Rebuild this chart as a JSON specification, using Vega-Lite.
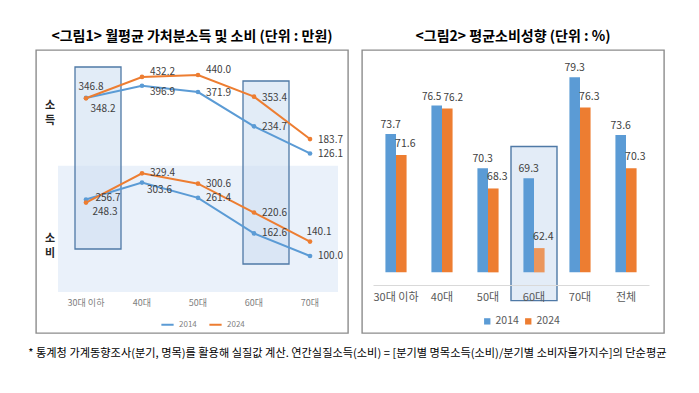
{
  "$schema": "https://vega.github.io/schema/vega-lite/v6.json",
  "padding": {"left": 28, "top": 29, "right": 5, "bottom": 5},
  "config": {
    "font": "Noto Sans CJK KR",
    "view": {"stroke": "#8c8c8c", "strokeWidth": 1.4},
    "background": "white"
  },
  "title": {
    "text": "* 통계청 가계동향조사(분기, 명목)를 활용해 실질값 계산. 연간실질소득(소비) = [분기별 명목소득(소비)/분기별 소비자물가지수]의 단순평균",
    "orient": "bottom", "anchor": "start", "fontSize": 11.2, "fontWeight": "normal",
    "offset": 14, "dx": -7, "color": "#000000", "font": "Noto Sans CJK KR"
  },
  "datasets": {
    "left": [
      {"cat": "30대 이하", "series": "2014", "kind": "소득", "value": 348.2},
      {"cat": "40대", "series": "2014", "kind": "소득", "value": 396.9},
      {"cat": "50대", "series": "2014", "kind": "소득", "value": 371.9},
      {"cat": "60대", "series": "2014", "kind": "소득", "value": 234.7},
      {"cat": "70대", "series": "2014", "kind": "소득", "value": 126.1},
      {"cat": "30대 이하", "series": "2024", "kind": "소득", "value": 346.8},
      {"cat": "40대", "series": "2024", "kind": "소득", "value": 432.2},
      {"cat": "50대", "series": "2024", "kind": "소득", "value": 440.0},
      {"cat": "60대", "series": "2024", "kind": "소득", "value": 353.4},
      {"cat": "70대", "series": "2024", "kind": "소득", "value": 183.7},
      {"cat": "30대 이하", "series": "2014", "kind": "소비", "value": 256.7},
      {"cat": "40대", "series": "2014", "kind": "소비", "value": 303.6},
      {"cat": "50대", "series": "2014", "kind": "소비", "value": 261.4},
      {"cat": "60대", "series": "2014", "kind": "소비", "value": 162.6},
      {"cat": "70대", "series": "2014", "kind": "소비", "value": 100.0},
      {"cat": "30대 이하", "series": "2024", "kind": "소비", "value": 248.3},
      {"cat": "40대", "series": "2024", "kind": "소비", "value": 329.4},
      {"cat": "50대", "series": "2024", "kind": "소비", "value": 300.6},
      {"cat": "60대", "series": "2024", "kind": "소비", "value": 220.6},
      {"cat": "70대", "series": "2024", "kind": "소비", "value": 140.1}
    ],
    "boxes": [
      {"cat": "30대 이하", "top": 624.3, "bottom": 119.4},
      {"cat": "60대", "top": 585.4, "bottom": 77.8}
    ],
    "sides": [
      {"cat": "30대 이하", "t": "소\n득", "kind": "소득", "v": 316},
      {"cat": "30대 이하", "t": "소\n비", "kind": "소비", "v": 146}
    ],
    "right": [
      {"cat": "30대 이하", "series": "2014", "value": 73.7},
      {"cat": "40대", "series": "2014", "value": 76.5},
      {"cat": "50대", "series": "2014", "value": 70.3},
      {"cat": "60대", "series": "2014", "value": 69.3},
      {"cat": "70대", "series": "2014", "value": 79.3},
      {"cat": "전체", "series": "2014", "value": 73.6},
      {"cat": "30대 이하", "series": "2024", "value": 71.6},
      {"cat": "40대", "series": "2024", "value": 76.2},
      {"cat": "50대", "series": "2024", "value": 68.3},
      {"cat": "60대", "series": "2024", "value": 62.4},
      {"cat": "70대", "series": "2024", "value": 76.3},
      {"cat": "전체", "series": "2024", "value": 70.3}
    ],
    "box2": [
      {"cat": "60대", "top": 72.45, "bottom": 57.2}
    ]
  },
  "hconcat": [
    {
      "width": 312,
      "height": 283,
      "title": {"text": "<그림1> 월평균 가처분소득 및 소비 (단위 : 만원)", "fontSize": 14, "fontWeight": "bold", "anchor": "middle", "offset": 6, "color": "#000000"},
      "data": {"name": "left"},
      "encoding": {
        "x": {
          "field": "cat", "type": "nominal",
          "scale": {"domain": ["30대 이하", "40대", "50대", "60대", "70대"], "range": [22, 302], "paddingInner": 0, "paddingOuter": 0},
          "axis": {"title": null, "orient": "bottom", "offset": -41, "domain": false, "ticks": false, "labelPadding": 6, "labelFontSize": 9, "labelColor": "#808080", "labelAngle": 0}
        }
      },
      "layer": [
        {
          "transform": [{"filter": "datum.kind=='소득' && datum.series=='2014'"}],
          "mark": {"type": "rect", "fill": "#eaf1fa"},
          "encoding": {
            "y": {"datum": 0, "type": "quantitative", "scale": {"domain": [-113.6, 671.4]}, "axis": null},
            "y2": {"datum": 350}
          }
        },
        {
          "data": {"name": "boxes"},
          "mark": {"type": "bar", "width": 46, "xOffset": 12, "fill": "#cfdff2", "fillOpacity": 0.6, "stroke": "#4f79a6", "strokeWidth": 1.3},
          "encoding": {
            "y": {"field": "top", "type": "quantitative", "scale": {"domain": [-113.6, 671.4]}, "axis": null},
            "y2": {"field": "bottom"}
          }
        },
        {
          "transform": [{"filter": "datum.kind=='소득'"}],
          "mark": {"type": "line", "strokeWidth": 2, "point": {"filled": true, "size": 22}},
          "encoding": {
            "y": {"field": "value", "type": "quantitative", "scale": {"domain": [-592, 540]}, "axis": null},
            "color": {"field": "series", "type": "nominal", "scale": {"domain": ["2014", "2024"], "range": ["#5b9bd5", "#ed7d31"]},
              "legend": {"title": null, "orient": "none", "legendX": 124, "legendY": 267, "direction": "horizontal", "symbolType": "stroke", "symbolStrokeWidth": 2, "symbolSize": 150, "labelFontSize": 8, "labelColor": "#7f7f7f", "columnPadding": 8}}
          }
        },
        {
          "transform": [{"filter": "datum.kind=='소비'"}],
          "mark": {"type": "line", "strokeWidth": 2, "point": {"filled": true, "size": 22}},
          "encoding": {
            "y": {"field": "value", "type": "quantitative", "scale": {"domain": [-113.6, 671.4]}, "axis": null},
            "color": {"field": "series", "type": "nominal"}
          }
        },
        {
          "transform": [{"filter": "datum.kind=='소득' && (datum.cat=='40대' || datum.cat=='50대') && datum.series=='2024'"}],
          "mark": {"type": "text", "align": "left", "baseline": "middle", "dx": 8, "dy": -5, "fontSize": 10, "color": "#404040"},
          "encoding": {
            "y": {"field": "value", "type": "quantitative", "scale": {"domain": [-592, 540]}, "axis": null},
            "text": {"field": "value", "type": "quantitative", "format": ".1f"}
          }
        },
        {
          "transform": [{"filter": "datum.kind=='소득' && datum.cat=='40대' && datum.series=='2014'"}],
          "mark": {"type": "text", "align": "left", "baseline": "middle", "dx": 8, "dy": 6, "fontSize": 10, "color": "#404040"},
          "encoding": {
            "y": {"field": "value", "type": "quantitative", "scale": {"domain": [-592, 540]}, "axis": null},
            "text": {"field": "value", "type": "quantitative", "format": ".1f"}
          }
        },
        {
          "transform": [{"filter": "datum.kind=='소득' && (datum.cat=='60대' || datum.cat=='70대' || (datum.cat=='50대' && datum.series=='2014'))"}],
          "mark": {"type": "text", "align": "left", "baseline": "middle", "dx": 8, "dy": 1, "fontSize": 10, "color": "#404040"},
          "encoding": {
            "y": {"field": "value", "type": "quantitative", "scale": {"domain": [-592, 540]}, "axis": null},
            "text": {"field": "value", "type": "quantitative", "format": ".1f"}
          }
        },
        {
          "transform": [{"filter": "datum.kind=='소득' && datum.cat=='30대 이하' && datum.series=='2024'"}],
          "mark": {"type": "text", "align": "center", "baseline": "middle", "dx": 5, "dy": -11, "fontSize": 10, "color": "#404040"},
          "encoding": {
            "y": {"field": "value", "type": "quantitative", "scale": {"domain": [-592, 540]}, "axis": null},
            "text": {"field": "value", "type": "quantitative", "format": ".1f"}
          }
        },
        {
          "transform": [{"filter": "datum.kind=='소득' && datum.cat=='30대 이하' && datum.series=='2014'"}],
          "mark": {"type": "text", "align": "center", "baseline": "middle", "dx": 17, "dy": 11, "fontSize": 10, "color": "#404040"},
          "encoding": {
            "y": {"field": "value", "type": "quantitative", "scale": {"domain": [-592, 540]}, "axis": null},
            "text": {"field": "value", "type": "quantitative", "format": ".1f"}
          }
        },
        {
          "transform": [{"filter": "datum.kind=='소비' && datum.cat=='30대 이하' && datum.series=='2024'"}],
          "mark": {"type": "text", "align": "center", "baseline": "middle", "dx": 19, "dy": 9, "fontSize": 10, "color": "#404040"},
          "encoding": {
            "y": {"field": "value", "type": "quantitative", "scale": {"domain": [-113.6, 671.4]}, "axis": null},
            "text": {"field": "value", "type": "quantitative", "format": ".1f"}
          }
        },
        {
          "transform": [{"filter": "datum.kind=='소비' && datum.cat=='30대 이하' && datum.series=='2014'"}],
          "mark": {"type": "text", "align": "center", "baseline": "middle", "dx": 22, "dy": -2, "fontSize": 10, "color": "#404040"},
          "encoding": {
            "y": {"field": "value", "type": "quantitative", "scale": {"domain": [-113.6, 671.4]}, "axis": null},
            "text": {"field": "value", "type": "quantitative", "format": ".1f"}
          }
        },
        {
          "transform": [{"filter": "datum.kind=='소비' && datum.cat=='40대' && datum.series=='2014'"}],
          "mark": {"type": "text", "align": "left", "baseline": "middle", "dx": 5, "dy": 7, "fontSize": 10, "color": "#404040"},
          "encoding": {
            "y": {"field": "value", "type": "quantitative", "scale": {"domain": [-113.6, 671.4]}, "axis": null},
            "text": {"field": "value", "type": "quantitative", "format": ".1f"}
          }
        },
        {
          "transform": [{"filter": "datum.kind=='소비' && datum.cat=='70대' && datum.series=='2024'"}],
          "mark": {"type": "text", "align": "center", "baseline": "middle", "dx": 9, "dy": -10, "fontSize": 10, "color": "#404040"},
          "encoding": {
            "y": {"field": "value", "type": "quantitative", "scale": {"domain": [-113.6, 671.4]}, "axis": null},
            "text": {"field": "value", "type": "quantitative", "format": ".1f"}
          }
        },
        {
          "transform": [{"filter": "datum.kind=='소비' && datum.cat!='30대 이하' && !(datum.cat=='40대' && datum.series=='2014') && !(datum.cat=='70대' && datum.series=='2024')"}],
          "mark": {"type": "text", "align": "left", "baseline": "middle", "dx": 8, "dy": 0, "fontSize": 10, "color": "#404040"},
          "encoding": {
            "y": {"field": "value", "type": "quantitative", "scale": {"domain": [-113.6, 671.4]}, "axis": null},
            "text": {"field": "value", "type": "quantitative", "format": ".1f"}
          }
        },
        {
          "data": {"name": "sides"},
          "transform": [{"filter": "datum.kind=='소득'"}],
          "mark": {"type": "text", "align": "center", "baseline": "middle", "dx": -36, "fontSize": 11, "fontWeight": "bold", "lineBreak": "\n", "lineHeight": 15, "color": "#262626"},
          "encoding": {
            "y": {"field": "v", "type": "quantitative", "scale": {"domain": [-592, 540]}, "axis": null},
            "text": {"field": "t"}
          }
        },
        {
          "data": {"name": "sides"},
          "transform": [{"filter": "datum.kind=='소비'"}],
          "mark": {"type": "text", "align": "center", "baseline": "middle", "dx": -36, "fontSize": 11, "fontWeight": "bold", "lineBreak": "\n", "lineHeight": 15, "color": "#262626"},
          "encoding": {
            "y": {"field": "v", "type": "quantitative", "scale": {"domain": [-113.6, 671.4]}, "axis": null},
            "text": {"field": "t"}
          }
        }
      ],
      "resolve": {"scale": {"y": "independent"}}
    },
    {
      "width": 302,
      "height": 283,
      "title": {"text": "<그림2> 평균소비성향 (단위 : %)", "fontSize": 14, "fontWeight": "bold", "anchor": "middle", "offset": 6, "color": "#000000"},
      "data": {"name": "right"},
      "encoding": {
        "x": {
          "field": "cat", "type": "nominal",
          "scale": {"domain": ["30대 이하", "40대", "50대", "60대", "70대", "전체"], "range": [11, 287], "paddingInner": 0.54, "paddingOuter": 0.27},
          "axis": {"title": null, "orient": "bottom", "offset": -48, "domain": true, "domainColor": "#d9d9d9", "ticks": false, "labelPadding": 6, "labelFontSize": 11, "labelColor": "#595959", "labelAngle": 0, "zindex": 1}
        }
      },
      "layer": [
        {
          "data": {"name": "box2"},
          "mark": {"type": "bar", "width": 46, "fill": "#e3ecf7", "stroke": "#4f79a6", "strokeWidth": 1.4},
          "encoding": {
            "y": {"field": "top", "type": "quantitative", "scale": {"domain": [55.64, 81.36]}, "axis": null},
            "y2": {"field": "bottom"}
          }
        },
        {
          "mark": {"type": "bar"},
          "encoding": {
            "xOffset": {"field": "series", "type": "nominal", "scale": {"domain": ["2014", "2024"], "paddingInner": 0, "paddingOuter": 0}},
            "y": {"field": "value", "type": "quantitative"},
            "y2": {"datum": 60},
            "opacity": {"condition": {"test": "datum.cat=='60대' && datum.series=='2024'", "value": 0.78}, "value": 1},
            "color": {"field": "series", "type": "nominal", "scale": {"domain": ["2014", "2024"], "range": ["#5b9bd5", "#ed7d31"]},
              "legend": {"title": null, "orient": "none", "legendX": 120, "legendY": 266, "direction": "horizontal", "symbolType": "square", "symbolSize": 40, "labelFontSize": 10.5, "labelOffset": 3, "columnPadding": 4, "labelColor": "#595959"}}
          }
        },
        {
          "transform": [{"filter": "datum.series=='2014' && datum.cat!='40대'"}],
          "mark": {"type": "text", "align": "center", "baseline": "middle", "dy": -9, "fontSize": 10.5, "color": "#404040"},
          "encoding": {
            "xOffset": {"field": "series", "type": "nominal", "scale": {"domain": ["2014", "2024"], "paddingInner": 0, "paddingOuter": 0}},
            "y": {"field": "value", "type": "quantitative"},
            "text": {"field": "value", "type": "quantitative", "format": ".1f"}
          }
        },
        {
          "transform": [{"filter": "datum.series=='2014' && datum.cat=='40대'"}],
          "mark": {"type": "text", "align": "center", "baseline": "middle", "dx": -5, "dy": -9, "fontSize": 10, "color": "#404040"},
          "encoding": {
            "xOffset": {"field": "series", "type": "nominal", "scale": {"domain": ["2014", "2024"], "paddingInner": 0, "paddingOuter": 0}},
            "y": {"field": "value", "type": "quantitative"},
            "text": {"field": "value", "type": "quantitative", "format": ".1f"}
          }
        },
        {
          "transform": [{"filter": "datum.series=='2024' && datum.cat=='40대'"}],
          "mark": {"type": "text", "align": "center", "baseline": "middle", "dx": 6, "dy": -11, "fontSize": 10, "color": "#404040"},
          "encoding": {
            "xOffset": {"field": "series", "type": "nominal", "scale": {"domain": ["2014", "2024"], "paddingInner": 0, "paddingOuter": 0}},
            "y": {"field": "value", "type": "quantitative"},
            "text": {"field": "value", "type": "quantitative", "format": ".1f"}
          }
        },
        {
          "transform": [{"filter": "datum.series=='2024' && datum.cat!='40대'"}],
          "mark": {"type": "text", "align": "center", "baseline": "middle", "dx": 4, "dy": -11, "fontSize": 10.5, "color": "#404040"},
          "encoding": {
            "xOffset": {"field": "series", "type": "nominal", "scale": {"domain": ["2014", "2024"], "paddingInner": 0, "paddingOuter": 0}},
            "y": {"field": "value", "type": "quantitative"},
            "text": {"field": "value", "type": "quantitative", "format": ".1f"}
          }
        }
      ]
    }
  ],
  "spacing": 12,
  "resolve": {"legend": {"color": "independent"}}
}
